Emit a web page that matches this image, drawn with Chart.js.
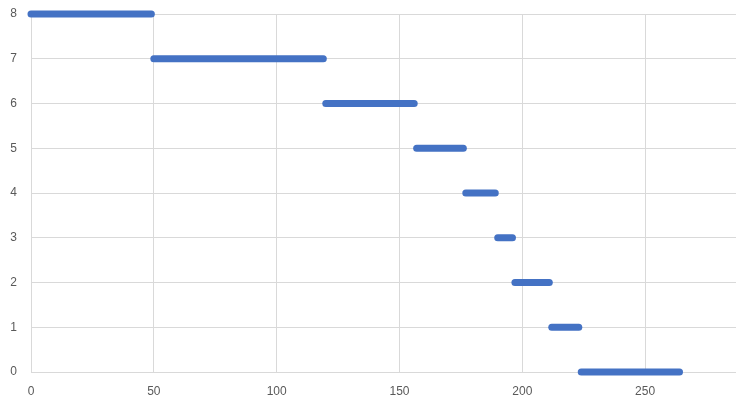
<!DOCTYPE html>
<html>
<head>
<meta charset="utf-8">
<script src="https://cdn.jsdelivr.net/npm/chart.js@4"></script>
<style>
  html, body { margin: 0; padding: 0; background: #fff; }
  #wrap { width: 736px; height: 401px; }
</style>
</head>
<body>
<div id="wrap"><canvas id="stepChart"></canvas></div>
<script>
// each step: level on y, running from start to end on x
const levels = [8, 7, 6, 5, 4, 3, 2, 1, 0];
const starts = [0, 50, 120, 157, 177, 190, 197, 212, 224];
const ends   = [49, 119, 156, 176, 189, 196, 211, 223, 264];
const xTicks = [0, 50, 100, 150, 200, 250];
const xMax = 287;

const barColor = "#4472C4";
const gridColor = "#D9D9D9";
const labelColor = "#595959";

// one dataset per step so the pieces don't join up
let datasets = levels.map((lvl, i) => ({
  data: [{ x: starts[i], y: lvl }, { x: ends[i], y: lvl }],
  borderColor: barColor,
  backgroundColor: barColor,
  borderWidth: 7,
  borderCapStyle: "round",
  pointRadius: 0,
  showLine: true,
  clip: false,
}));

new Chart(document.getElementById("stepChart"), {
  type: "scatter",
  data: { datasets: datasets },
  options: {
    responsive: true,
    maintainAspectRatio: false,
    animation: false,
    layout: { padding: { top: 14, right: 0, left: 0, bottom: 0 } },
    plugins: { legend: { display: false }, tooltip: { enabled: false } },
    scales: {
      x: {
        type: "linear",
        min: 0,
        max: xMax,
        afterBuildTicks: scale => { scale.ticks = xTicks.map(v => ({ value: v })); },
        afterFit: scale => { scale.height = 29; scale.paddingLeft = 0; scale.paddingRight = 0; },
        grid: { color: gridColor, drawTicks: false },
        border: { color: gridColor },
        ticks: { color: labelColor, padding: 12, font: { family: "Liberation Sans", size: 12 } },
      },
      y: {
        min: 0,
        max: 8,
        // label overhang shouldn't push the plot down
        afterFit: scale => { scale.width = 31; scale.paddingTop = 0; scale.paddingBottom = 0; },
        grid: { color: gridColor, drawTicks: false },
        border: { color: gridColor },
        ticks: { stepSize: 1, color: labelColor, padding: 14, font: { family: "Liberation Sans", size: 12 } },
      }
    }
  }
});
</script>
</body>
</html>
